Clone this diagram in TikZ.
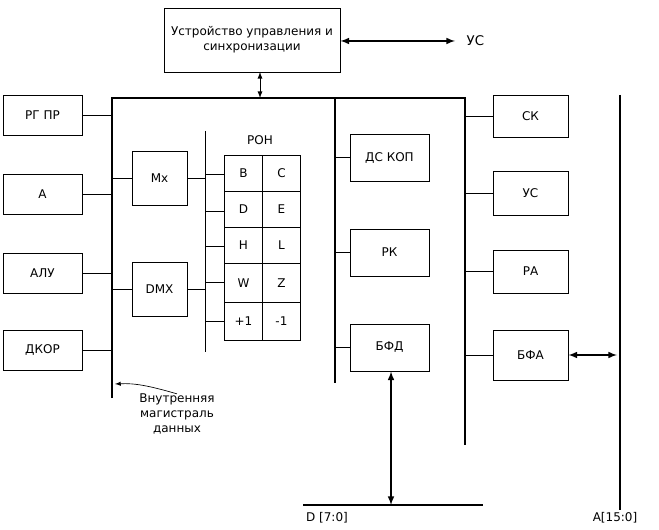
\documentclass[tikz,border=0pt]{standalone}
\usepackage{fontspec}
\setmainfont{DejaVu Sans}
\begin{document}
\begin{tikzpicture}[x=0.75pt,y=-0.75pt,
  box/.style={draw,line width=0.7pt,inner sep=0pt,font=\small},
  bus/.style={line width=1.8pt},
  ln/.style={line width=0.7pt},
  da/.style={line width=1.2pt,<->,>=latex}]
\useasboundingbox (0,0) rectangle (659,530);
% top box
\node[box,minimum width=176*0.75pt,minimum height=64*0.75pt,align=center,font=\small] (uu) at (252,40) {Устройство управления и\\синхронизации};
\coordinate (usa) at (455,41);
\node[anchor=west,font=\normalsize] (us) at (462,41) {УС};
\draw[da] (uu.east |- usa) -- (usa);
% buses
\coordinate (tl) at (112,98); \coordinate (tr) at (465,98);
\draw[bus] (112,398) -- (tl) -- (tr) -- (465,445);
\draw[bus] (335,98) -- (335,383);
\draw[line width=1.2pt] (620,95) -- (620,510);
\draw[ln,<->,>=latex] (260,72) -- (260,98);
% left boxes
\foreach \n/\t/\y in {rg/РГ ПР/115, a/А/194, alu/АЛУ/273, dk/ДКОР/350}{
  \node[box,minimum width=79*0.75pt,minimum height=40*0.75pt] (\n) at (42.5,\y) {\t};
  \draw[ln] (\n.east) -- (112,\y);}
% Mx, DMX
\node[box,minimum width=55*0.75pt,minimum height=54*0.75pt] (mx) at (159.5,178) {Mx};
\node[box,minimum width=55*0.75pt,minimum height=54*0.75pt] (dmx) at (159.5,289) {DMX};
\draw[ln] (112,178) -- (mx.west); \draw[ln] (112,289) -- (dmx.west);
\draw[ln] (205,131) -- (205,352);
\draw[ln] (mx.east) -- (205,178); \draw[ln] (dmx.east) -- (205,289);
\node[font=\small] (ron) at (260,140) {РОН};
% register grid
\foreach \a/\b/\y/\h/\yc in {B/C/155/36/174, D/E/191/36/211, H/L/227/36/246, W/Z/263/39/282, +1/-1/302/38/321}{
  \node[box,minimum width=38*0.75pt,minimum height=\h*0.75pt,anchor=north west] (r\a) at (224,\y) {\a};
  \node[box,minimum width=38*0.75pt,minimum height=\h*0.75pt,anchor=north west] (s\b) at (262,\y) {\b};
  \draw[ln] (205,\yc) -- (224,\yc);}
% middle boxes
\foreach \n/\t/\y in {dc/ДС КОП/157.5, rk/РК/252.5, bfd/БФД/347.5}{
  \node[box,minimum width=79*0.75pt,minimum height=47*0.75pt] (\n) at (389.5,\y) {\t};
  \draw[ln] (335,\y) -- (\n.west);}
% right boxes
\foreach \n/\t/\y/\h in {sk/СК/116/42, us2/УС/193/44, ra/РА/271.5/43, bfa/БФА/355/50}{
  \node[box,minimum width=75*0.75pt,minimum height=\h*0.75pt] (\n) at (530.5,\y) {\t};
  \draw[ln] (465,\y) -- (\n.west);}
\coordinate (bfaE) at (617,355);
\draw[da] (bfa.east) -- (bfaE);
% D bus
\coordinate (dl) at (303,505); \coordinate (dr) at (483,505);
\draw[line width=1.2pt] (dl) -- (dr);
\coordinate (dm) at (391,505);
\draw[da] (bfd.south -| dm) -- (dm);
\node[font=\small] (dlab) at (327,518) {D [7:0]};
\node[font=\small] (alab) at (615,518) {A[15:0]};
% annotation
\node[align=center,font=\small,inner sep=0pt] (ann) at (177,414) {Внутренняя\\магистраль\\данных};
\coordinate (ap) at (115,384);
\draw[line width=0.5pt,-latex] (ann.north) .. controls (150,386) and (135,383) .. (ap);
\end{tikzpicture}
\end{document}
